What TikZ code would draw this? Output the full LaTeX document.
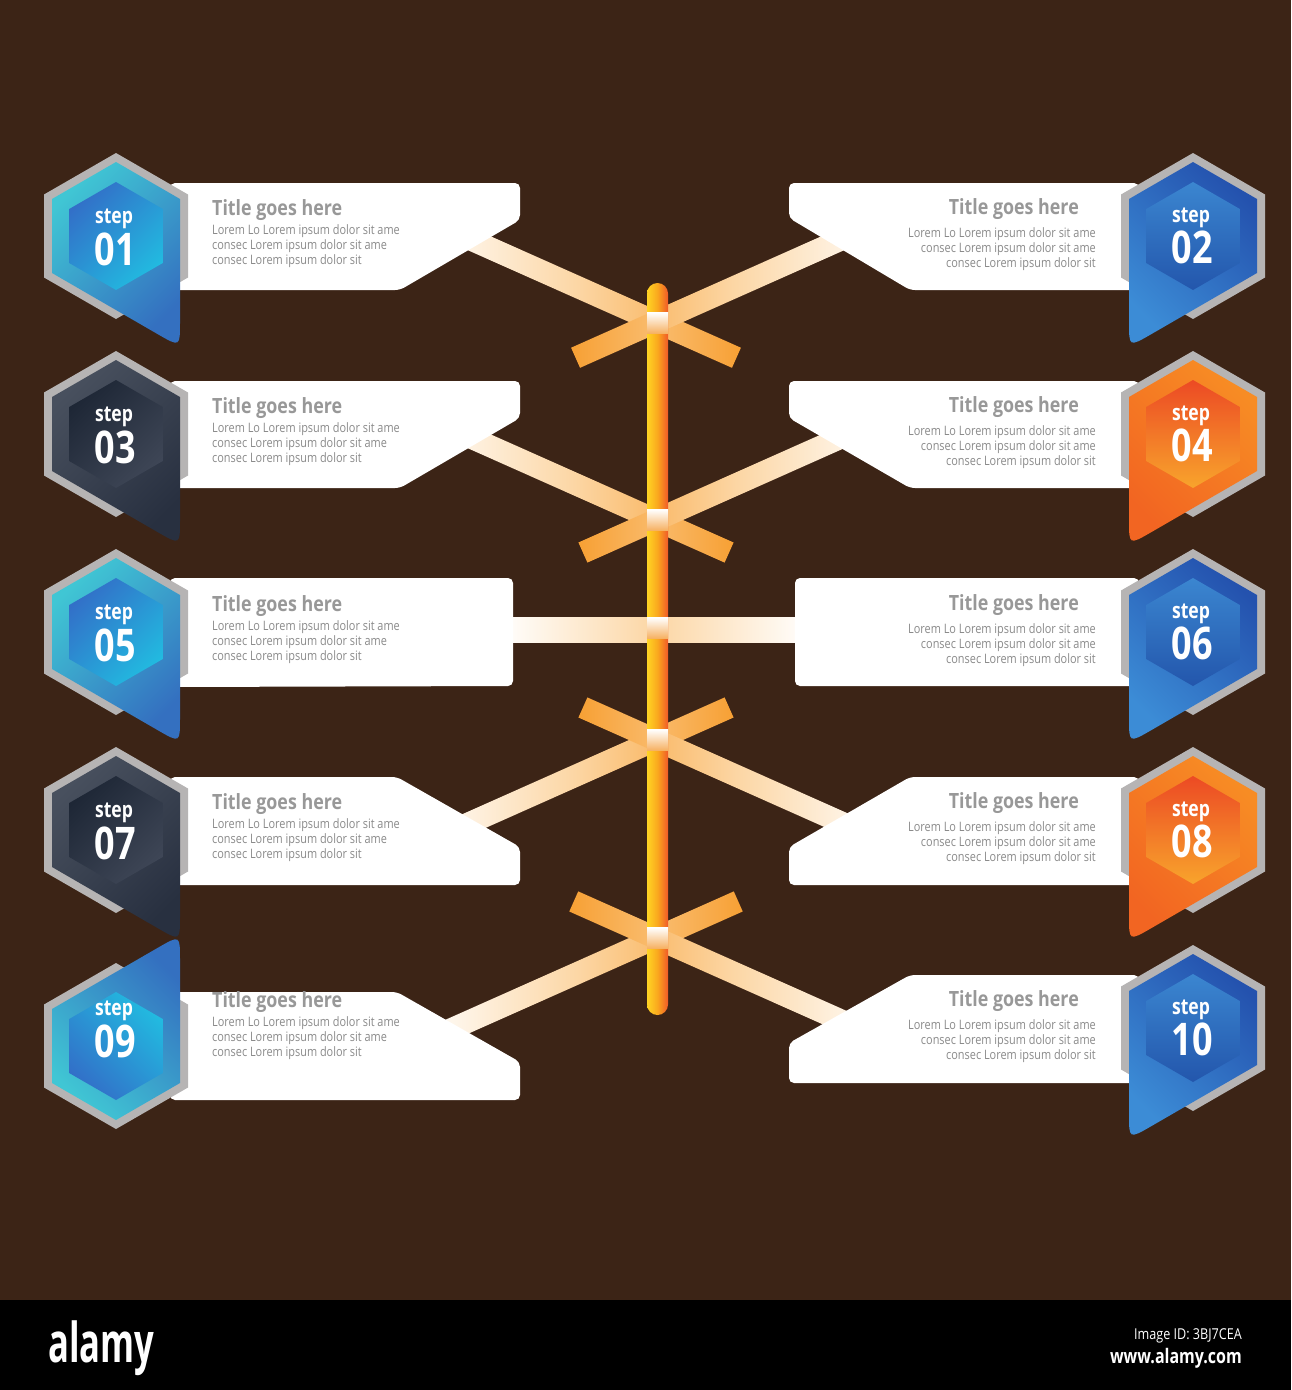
\documentclass[tikz,border=0pt]{standalone}
\usepackage{fontspec}
\setmainfont{Open Sans}
\newfontfamily\condf[FakeStretch=0.80]{Open Sans}
\newfontfamily\ttlf[FakeStretch=0.85]{Open Sans}
\newfontfamily\bodyf[FakeStretch=0.84]{Open Sans}
\newfontfamily\logof[FakeStretch=0.63]{Open Sans}
\definecolor{bgbrown}{RGB}{60,36,22}
\definecolor{hexgray}{RGB}{182,180,180}
\definecolor{titlegray}{RGB}{152,152,152}
\definecolor{bodygray}{RGB}{138,138,138}
\definecolor{bandmid}{RGB}{252,214,164}
\definecolor{bandend}{RGB}{247,160,52}
\definecolor{spineY}{RGB}{255,212,35}
\definecolor{spineO}{RGB}{250,168,30}
\definecolor{spineR}{RGB}{240,90,40}
\definecolor{sqbot}{RGB}{246,176,96}
\definecolor{cyanA}{RGB}{64,198,212}
\definecolor{cyanB}{RGB}{52,112,192}
\definecolor{cyanC}{RGB}{50,112,200}
\definecolor{cyanD}{RGB}{34,186,224}
\definecolor{blueA}{RGB}{36,82,174}
\definecolor{blueB}{RGB}{60,140,214}
\definecolor{blueC}{RGB}{59,134,208}
\definecolor{blueD}{RGB}{35,86,172}
\definecolor{darkA}{RGB}{72,80,94}
\definecolor{darkB}{RGB}{40,48,64}
\definecolor{darkC}{RGB}{30,39,54}
\definecolor{darkD}{RGB}{62,70,86}
\definecolor{orgA}{RGB}{247,140,36}
\definecolor{orgB}{RGB}{242,101,34}
\definecolor{orgC}{RGB}{236,74,36}
\definecolor{orgD}{RGB}{248,164,44}
\tikzset{
  cyanO/.style={top color=cyanA, bottom color=cyanB, shading angle=45},
  cyanI/.style={top color=cyanC, bottom color=cyanD, shading angle=45},
  cyanOf/.style={top color=cyanB, bottom color=cyanA, shading angle=-45},
  cyanIf/.style={top color=cyanD, bottom color=cyanC, shading angle=-45},
  blueO/.style={top color=blueA, bottom color=blueB, shading angle=-45},
  blueI/.style={top color=blueC, bottom color=blueD},
  darkO/.style={top color=darkA, bottom color=darkB, shading angle=45},
  darkI/.style={top color=darkC, bottom color=darkD, shading angle=45},
  orgO/.style={top color=orgA, bottom color=orgB, shading angle=-45},
  orgI/.style={top color=orgC, bottom color=orgD},
  bandL/.style={inner sep=0, minimum height=22, left color=white, right color=bandend, middle color=bandmid},
  bandR/.style={inner sep=0, minimum height=22, left color=bandend, right color=white, middle color=bandmid},
  crossbox/.style={inner sep=0, minimum size=21, top color=white, bottom color=sqbot},
  boxfill/.style={fill=white, rounded corners=5},
  ttl/.style={inner sep=0, text=titlegray, font=\ttlf\bfseries\fontsize{21}{21}\selectfont},
  bdy/.style={inner sep=0, text=bodygray, font=\bodyf\fontsize{13}{13}\selectfont},
  steptxt/.style={inner sep=0, text=white, font=\condf\bfseries\fontsize{22}{22}\selectfont},
  numtxt/.style={inner sep=0, text=white, font=\condf\bfseries\fontsize{45}{45}\selectfont}
}
\newcommand\badge[6]{%
  \fill[hexgray] ({#1},{#2-83}) -- ({#1+72},{#2-41.5}) -- ({#1+72},{#2+41.5}) -- ({#1},{#2+83}) -- ({#1-72},{#2+41.5}) -- ({#1-72},{#2-41.5}) -- cycle;
  \path[#5] ({#1},{#2-(#4)*74}) -- ({#1+(#3)*64},{#2-(#4)*37}) -- ({#1+(#3)*64},{#2+(#4)*86}) .. controls ({#1+(#3)*64},{#2+(#4)*111}) .. ({#1+(#3)*42.3},{#2+(#4)*98.5}) -- ({#1-(#3)*64},{#2+(#4)*37}) -- ({#1-(#3)*64},{#2-(#4)*37}) -- cycle;
  \path[#6] ({#1},{#2-54}) -- ({#1+46.8},{#2-27}) -- ({#1+46.8},{#2+27}) -- ({#1},{#2+54}) -- ({#1-46.8},{#2+27}) -- ({#1-46.8},{#2-27}) -- cycle;
}
\newcommand\lefttext[2]{%
  \node[ttl, anchor=base west] (t#2) at (212,{#1-21}) {Title goes here};
  \node[bdy, anchor=base west] (a#2) at (212,{#1-2}) {Lorem Lo Lorem ipsum dolor sit ame};
  \node[bdy, anchor=base west] (b#2) at (212,{#1+13}) {consec Lorem ipsum dolor sit ame};
  \node[bdy, anchor=base west] (c#2) at (212,{#1+28}) {consec Lorem ipsum dolor sit};
}
\newcommand\righttext[2]{%
  \node[ttl, anchor=base east] (t#2) at (1079,{#1-22}) {Title goes here};
  \node[bdy, anchor=base east] (a#2) at (1096,{#1+1}) {Lorem Lo Lorem ipsum dolor sit ame};
  \node[bdy, anchor=base east] (b#2) at (1096,{#1+16}) {consec Lorem ipsum dolor sit ame};
  \node[bdy, anchor=base east] (c#2) at (1096,{#1+31}) {consec Lorem ipsum dolor sit};
}
\newcommand\leftlabel[3]{%
  \node[steptxt, anchor=base] (s#3) at (114,{#1-13}) {step};
  \node[numtxt, anchor=base] (n#3) at (115,{#1+29}) {#2};
}
\newcommand\rightlabel[3]{%
  \node[steptxt, anchor=base] (s#3) at (1191,{#1-14}) {step};
  \node[numtxt, anchor=base] (n#3) at (1192,{#1+27}) {#2};
}
\begin{document}
\begin{tikzpicture}[x=1pt,y=-1pt]
\useasboundingbox (0,0) rectangle (1291,1390);
\fill[bgbrown] (0,0) rectangle (1291,1300);
\fill[black] (0,1300) rectangle (1291,1390);
% bands
\node[bandL, rotate=-24, minimum width=346] (b1l) at (578.4,287.4) {};
\node[bandR, rotate=24, minimum width=344] (b1r) at (732.7,287.8) {};
\node[bandL, rotate=-24, minimum width=338] (b2l) at (574.7,483.8) {};
\node[bandR, rotate=24, minimum width=336] (b2r) at (736.4,484.2) {};
\node[inner sep=0, minimum height=25, minimum width=310, left color=white, right color=white, middle color=bandmid] (b3) at (655,630) {};
\node[bandL, rotate=24, minimum width=338] (b4l) at (574.7,776.2) {};
\node[bandR, rotate=-24, minimum width=336] (b4r) at (736.4,775.8) {};
\node[bandL, rotate=24, minimum width=348] (b5l) at (579.3,972.2) {};
\node[bandR, rotate=-24, minimum width=346] (b5r) at (731.8,971.8) {};
% spine
\node[inner sep=0, minimum width=21, minimum height=732, rounded corners=10.5, left color=spineY, right color=spineR, middle color=spineO] (spine) at (657.5,649) {};
% crossing squares
\node[crossbox] (x1) at (657.5,323) {};
\node[crossbox] (x2) at (657.5,520) {};
\node[crossbox] (x3) at (657.5,628) {};
\node[crossbox] (x4) at (657.5,740) {};
\node[crossbox] (x5) at (657.5,938) {};
% boxes left
\fill[boxfill] (170,183) -- (520,183) -- (520,220) -- (400,290) -- (170,290) -- cycle;
\fill[boxfill] (170,381) -- (520,381) -- (520,418) -- (400,488) -- (170,488) -- cycle;
\fill[boxfill] (170,578) -- (513,578) -- (513,686) -- (170,687) -- cycle;
\fill[boxfill] (170,777) -- (397,777) -- (520,847) -- (520,885) -- (170,885) -- cycle;
\fill[boxfill] (170,992) -- (397,992) -- (520,1062) -- (520,1100) -- (170,1100) -- cycle;
% boxes right
\fill[boxfill] (1139,183) -- (789,183) -- (789,218) -- (910,290) -- (1139,290) -- cycle;
\fill[boxfill] (1139,381) -- (789,381) -- (789,418) -- (910,488) -- (1139,488) -- cycle;
\fill[boxfill] (1139,578) -- (795,578) -- (795,686) -- (1139,686) -- cycle;
\fill[boxfill] (1139,777) -- (910,777) -- (789,847) -- (789,885) -- (1139,885) -- cycle;
\fill[boxfill] (1139,975) -- (910,975) -- (789,1043) -- (789,1083) -- (1139,1083) -- cycle;
% badges
\badge{116}{236}{1}{1}{cyanO}{cyanI}
\badge{1193}{236}{-1}{1}{blueO}{blueI}
\badge{116}{434}{1}{1}{darkO}{darkI}
\badge{1193}{434}{-1}{1}{orgO}{orgI}
\badge{116}{632}{1}{1}{cyanO}{cyanI}
\badge{1193}{632}{-1}{1}{blueO}{blueI}
\badge{116}{830}{1}{1}{darkO}{darkI}
\badge{1193}{830}{-1}{1}{orgO}{orgI}
\badge{116}{1046}{1}{-1}{cyanOf}{cyanIf}
\badge{1193}{1028}{-1}{1}{blueO}{blueI}
% texts
\lefttext{236}{1}
\righttext{236}{2}
\lefttext{434}{3}
\righttext{434}{4}
\lefttext{632}{5}
\righttext{632}{6}
\lefttext{830}{7}
\righttext{830}{8}
\lefttext{1028}{9}
\righttext{1028}{10}
\leftlabel{236}{01}{1}
\rightlabel{236}{02}{2}
\leftlabel{434}{03}{3}
\rightlabel{434}{04}{4}
\leftlabel{632}{05}{5}
\rightlabel{632}{06}{6}
\leftlabel{830}{07}{7}
\rightlabel{830}{08}{8}
\leftlabel{1028}{09}{9}
\rightlabel{1028}{10}{10}
% footer
\node[anchor=base west, inner sep=0, text=white, font=\logof\bfseries\fontsize{55}{55}\selectfont] (logo) at (48,1362) {alamy};
\node[anchor=base east, inner sep=0, text=white, font=\bodyf\fontsize{15}{15}\selectfont] (imgid) at (1242,1339) {Image ID: 3BJ7CEA};
\node[anchor=base east, inner sep=0, text=white, font=\condf\bfseries\fontsize{20}{20}\selectfont] (url) at (1242,1363) {www.alamy.com};
\end{tikzpicture}
\end{document}
